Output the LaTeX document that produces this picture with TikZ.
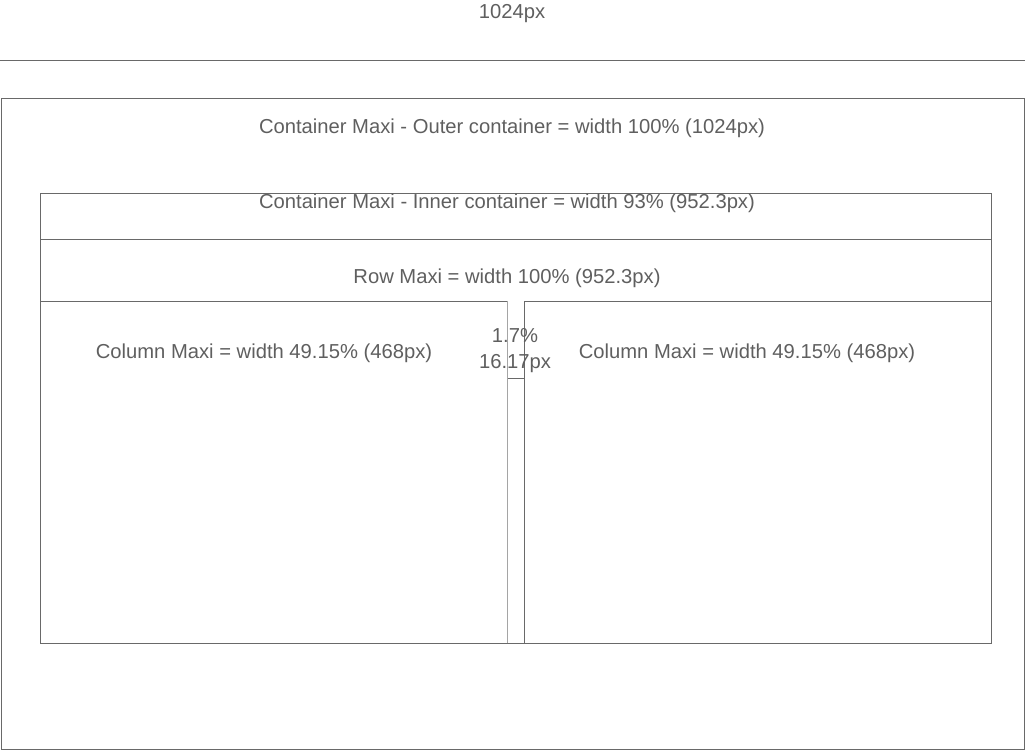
\documentclass[tikz,border=0pt]{standalone}
\usepackage{fontspec}
\setmainfont{Liberation Sans}
\usepackage{xcolor}
\usetikzlibrary{positioning}
\definecolor{linegray}{RGB}{105,105,105}
\definecolor{textgray}{RGB}{95,95,95}
\tikzset{%
	box/.style      = {draw=linegray, line width=0.5pt}, % Frame
	label/.style    = {text=textgray, font=\fontsize{11.5}{13}\selectfont, inner sep=0pt}, % Caption
	gutterline/.style = {draw=linegray!60, line width=0.5pt},
}
\begin{document}
\begin{tikzpicture}[x=0.02cm,y=-0.02cm]
	\useasboundingbox (0,0) rectangle (1025,750);
	% page width
	\node [label] (pagew) at (512,14) {1024px};
	\coordinate (rl) at (0,60);
	\coordinate (rr) at (1025,60);
	\draw [box] (rl) -- (rr);
	
	% outer and inner containers
	\draw [box] (1,98) rectangle (1024,749);
	\node [label] (outer) at (512,128) {Container Maxi - Outer container = width 100\% (1024px)};
	\draw [box] (40,193) rectangle (991,643);
	\node [label] (inner) at (507,203) {Container Maxi - Inner container = width 93\% (952.3px)};
	\draw [box] (40,239) -- (991,239);
	\node [label] (row) at (507,278) {Row Maxi = width 100\% (952.3px)};
	
	% columns and gutter
	\draw [box] (40,301) rectangle (507,643);
	\draw [box] (524,301) rectangle (991,643);
	\draw [box] (507,378) -- (524,378);
	\draw [gutterline] (507,301) -- (507,643);
	\node [label] (coll) at (264,353) {Column Maxi = width 49.15\% (468px)};
	\node [label] (colr) at (747,353) {Column Maxi = width 49.15\% (468px)};
	\node [label] (gutp) at (515,336) {1.7\%};
	\node [label] (gutw) [below=6pt of gutp] {16.17px};
\end{tikzpicture}
\end{document}
